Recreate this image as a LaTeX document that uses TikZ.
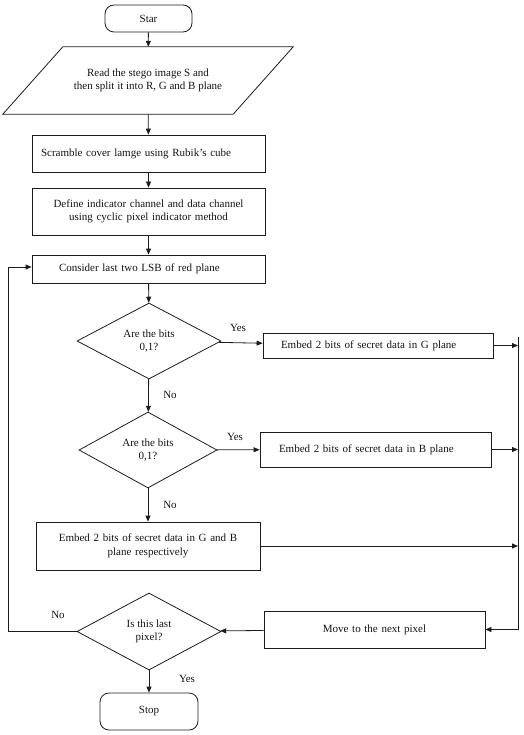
\documentclass[tikz,border=0pt]{standalone}
\usepackage{fontspec}
\setmainfont{Liberation Serif}
\definecolor{fcLine}{HTML}{1C1C1C}
\definecolor{fcText}{HTML}{141414}
\usetikzlibrary{calc,positioning,arrows.meta,shapes.geometric}

\tikzset{
  fcFont/.style={font=\fontsize{11}{13.5}\selectfont, text=fcText},
  fcBox/.style={fcFont, draw=fcLine, line width=0.8pt, rectangle, inner ysep=0pt},
  fcEnd/.style={fcBox, rounded corners=9pt, align=center},
  fcDec/.style={fcFont, draw=fcLine, line width=0.8pt, diamond, aspect=1.9, inner sep=0pt, align=center},
  fcArr/.style={draw=fcLine, line width=0.8pt, -{Triangle[length=6pt,width=5pt]}},
  fcLine/.style={draw=fcLine, line width=0.8pt},
  fcLbl/.style={fcFont, inner sep=0pt}
}

\begin{document}
\begin{tikzpicture}[x=1pt,y=-1pt]
  \useasboundingbox (0,0) rectangle (523,735);

  \node[fcEnd, minimum width=87, minimum height=27] (star) at (148.5,18.5) {Star};
  \node[fcFont, align=center, minimum width=230, minimum height=67, inner sep=0pt] (read) at (148,80.5)
    {Read the stego image S and\\then split it into R, G and B plane};
  \draw[fcLine] ([xshift=30]read.north west) -- ([xshift=30]read.north east)
    -- ([xshift=-30]read.south east) -- ([xshift=-30]read.south west) -- cycle;
  \node[fcBox, minimum width=233, minimum height=37, inner xsep=9, text width=215, align=left] (scramble) at (148.5,153.5)
    {Scramble cover lamge using Rubik's cube};
  \node[fcBox, minimum width=233, minimum height=47, inner xsep=4, text width=225, align=center] (define) at (148.5,211.5)
    {Define indicator channel and data channel\\using cyclic pixel indicator method};
  \node[fcBox, minimum width=233, minimum height=28, inner xsep=27, text width=179, align=left] (consider) at (148.5,269)
    {Consider last two LSB of red plane};

  \node[fcDec, minimum width=144, minimum height=76] (decg) at (149,341) {Are the bits\\0,1?};
  \node[fcBox, minimum width=230, minimum height=25, inner xsep=18, text width=194, align=left] (embg) at (378,345.5)
    {Embed 2 bits of secret data in G plane};
  \node[fcDec, minimum width=138, minimum height=76] (decb) at (148,450) {Are the bits\\0,1?};
  \node[fcBox, minimum width=231, minimum height=35, inner xsep=19, text width=193, align=left] (embb) at (375.5,449.5)
    {Embed 2 bits of secret data in B plane};
  \node[fcBox, minimum width=224, minimum height=48, inner xsep=4, text width=216, align=center] (embgb) at (148,546)
    {Embed 2 bits of secret data in G and B\\plane respectively};

  \node[fcBox, minimum width=221, minimum height=37, inner xsep=4, text width=213, align=center] (move) at (374.5,629.5)
    {Move to the next pixel};
  \node[fcDec, minimum width=144, minimum height=77] (declast) at (149,631.5) {Is this last\\pixel?};
  \node[fcEnd, minimum width=98, minimum height=37] (stop) at (149,711.5) {Stop};

  \coordinate (rail) at (518,337);
  \coordinate (loop) at (8,267);

  \draw[fcArr] (star) -- (read);
  \draw[fcArr] (read) -- (scramble);
  \draw[fcArr] (scramble) -- (define);
  \draw[fcArr] (define) -- (consider);
  \draw[fcArr] (consider) -- (decg);
  \draw[fcArr] (decg) -- (embg);
  \draw[fcArr] (decg) -- (decb);
  \draw[fcArr] (decb) -- (embb);
  \draw[fcArr] (decb) -- (embgb);
  \draw[fcArr] (embg.east) -- (embg.east -| rail);
  \draw[fcArr] (embb.east) -- (embb.east -| rail);
  \draw[fcArr] (embgb.east) -- (embgb.east -| rail);
  \draw[fcArr] (rail) -- (move.east -| rail) -- (move.east);
  \draw[fcArr] (move) -- (declast);
  \draw[fcArr] (declast.west) -- (declast.west -| loop) -- (loop) -- (loop -| consider.west);
  \draw[fcArr] (declast) -- (stop);

  \node[fcLbl] at (238,328) {Yes};
  \node[fcLbl] at (170,395) {No};
  \node[fcLbl] at (235,437) {Yes};
  \node[fcLbl] at (170,505) {No};
  \node[fcLbl] at (58,615) {No};
  \node[fcLbl] at (187,679) {Yes};
\end{tikzpicture}
\end{document}
